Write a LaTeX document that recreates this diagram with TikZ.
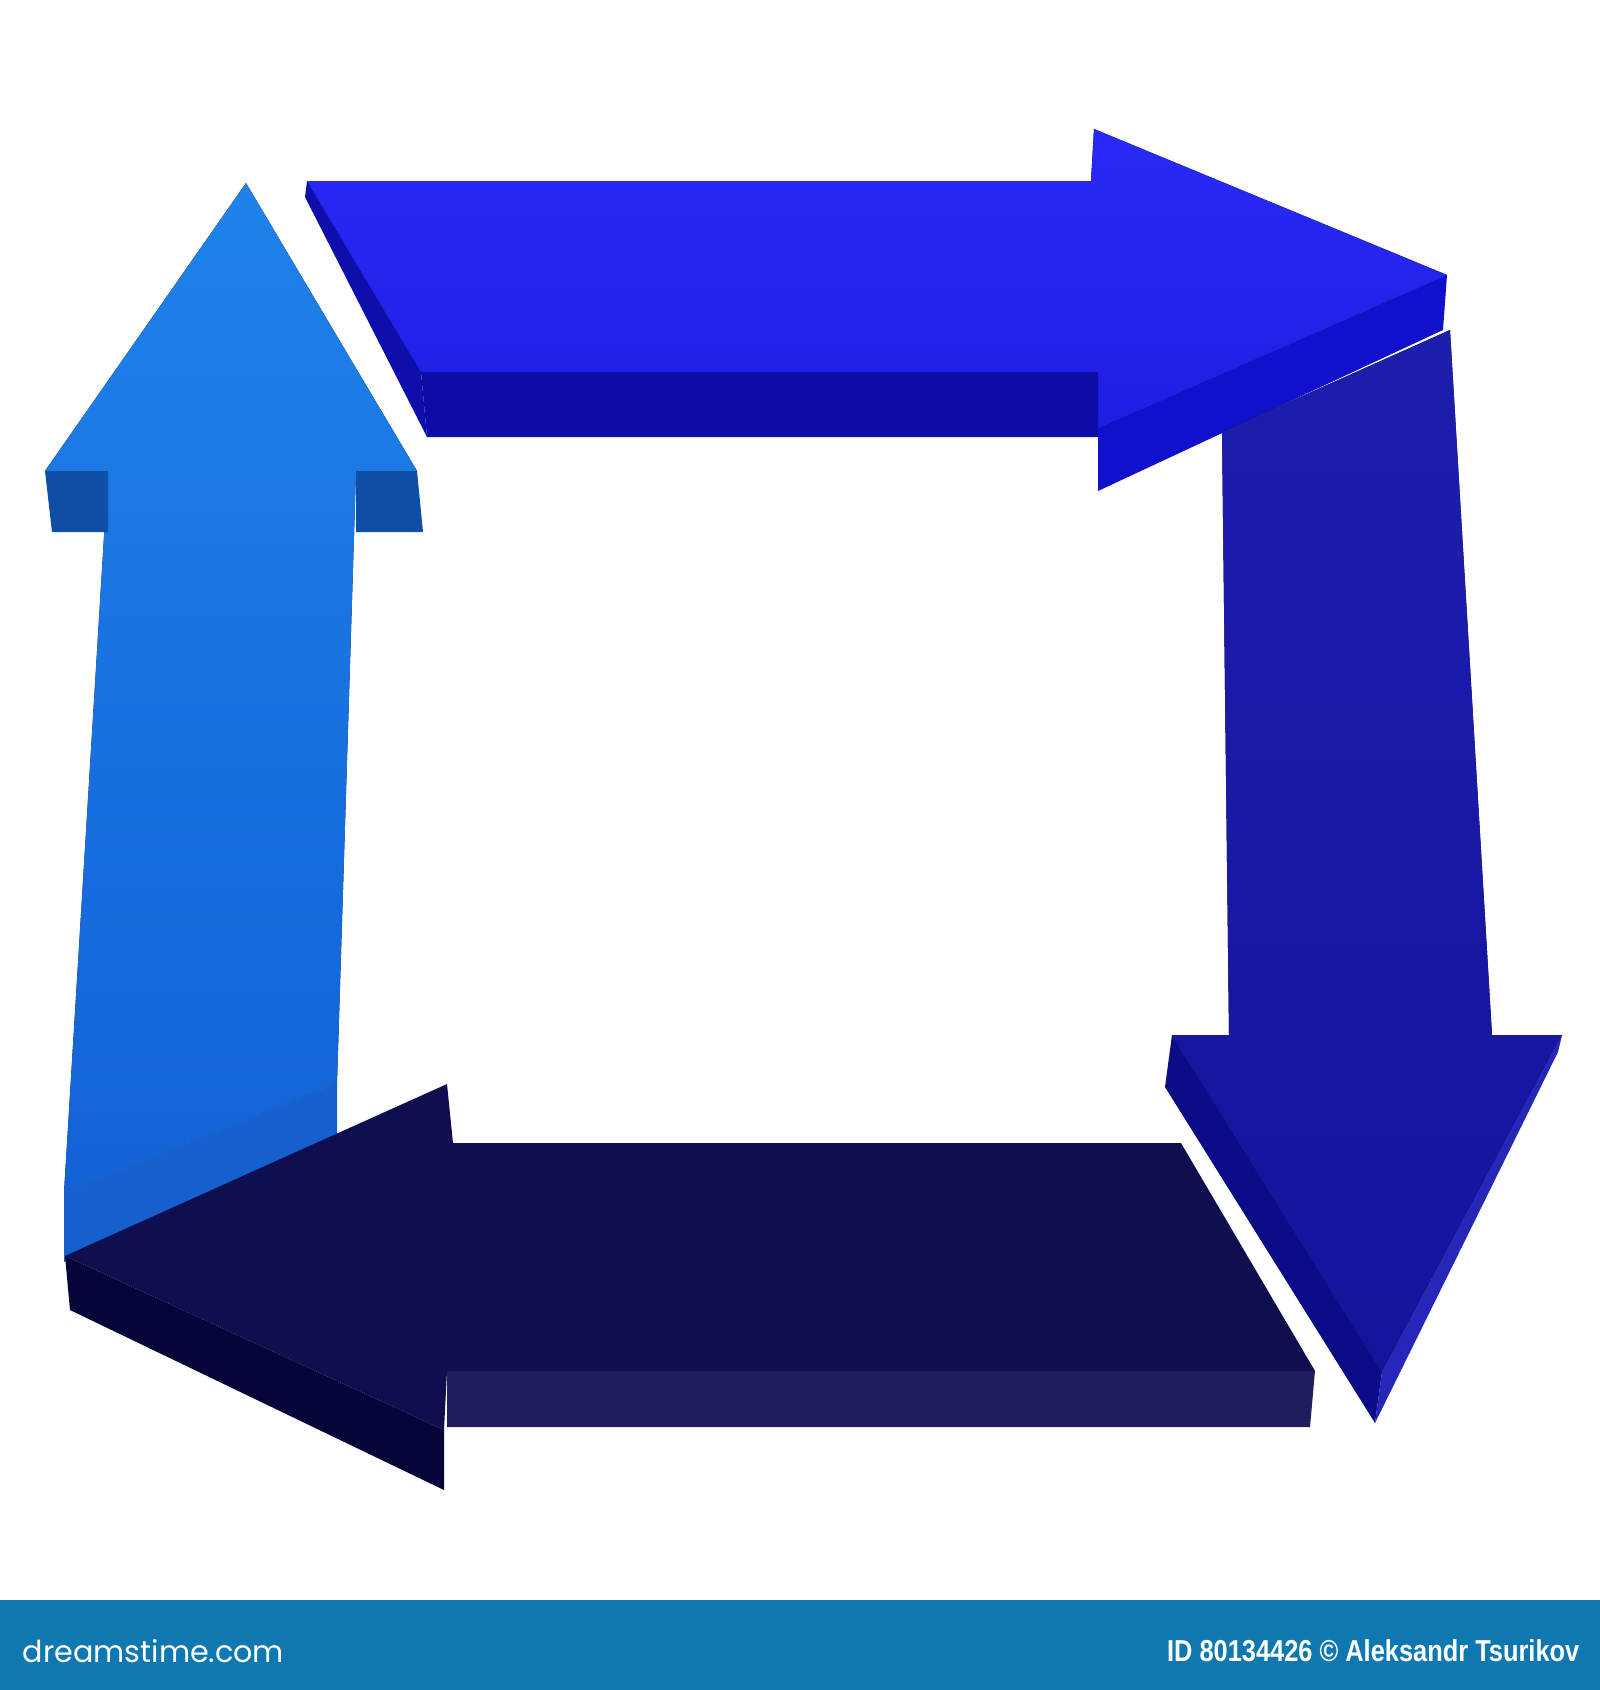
\documentclass[tikz,border=0pt]{standalone}
\usepackage{fontspec}
\usepackage{graphicx}
\setmainfont{Liberation Sans}
\newfontfamily\logofont{Poppins}
\usetikzlibrary{positioning}

% arrow colours
\definecolor{upTop}{HTML}{1F82EA}
\definecolor{upBot}{HTML}{1262D6}
\definecolor{upSide}{HTML}{0E4EA6}
\definecolor{upEnd}{HTML}{1660CE}
\definecolor{rightTop}{HTML}{2A2AF8}
\definecolor{rightBot}{HTML}{1E1EE4}
\definecolor{rightSide}{HTML}{0C0CA6}
\definecolor{rightHead}{HTML}{1111CC}
\definecolor{downTop}{HTML}{1E1EAE}
\definecolor{downBot}{HTML}{13139C}
\definecolor{downLeft}{HTML}{0C0C88}
\definecolor{downRight}{HTML}{2626B8}
\definecolor{leftTop}{HTML}{0F0F4F}
\definecolor{leftSide}{HTML}{1E1E5C}
\definecolor{leftHead}{HTML}{05053A}
\definecolor{banner}{HTML}{0F78B0}

\tikzset{
    face/.style={
        line join=round,
        draw=none
    },
    topface/.style 2 args={
        face,
        top color=#1,
        bottom color=#2
    },
    sideface/.style={
        face,
        fill=#1
    },
    bannertext/.style={
        text=white,
        inner sep=0pt
    }
}

\begin{document}
\begin{tikzpicture}[x=0.01cm, y=-0.01cm]
        \useasboundingbox [fill=white] (0,0) rectangle (1600,1690);

        % Up arrow (light blue, left)
        \fill [topface={upTop}{upBot}] (246,183) -- (417,471) -- (356,471) -- (337,1083)
            -- (64,1193) -- (108,471) -- (45,471) -- cycle;
        \fill [sideface=upSide] (45,471) -- (108,471) -- (108,532) -- (52,532) -- cycle;
        \fill [sideface=upSide] (356,471) -- (417,471) -- (423,532) -- (356,532) -- cycle;
        \fill [sideface=upEnd] (64,1193) -- (337,1083) -- (337,1140) -- (64,1262) -- cycle;

        % Right arrow (bright blue, top)
        \fill [topface={rightTop}{rightBot}] (307,181) -- (1091,181) -- (1094,129) -- (1447,275)
            -- (1098,428) -- (1098,372) -- (421,372) -- cycle;
        \fill [sideface=rightSide] (421,372) -- (1098,372) -- (1098,437) -- (427,437) -- cycle;
        \fill [sideface=rightHead!85!black] (307,181) -- (421,372) -- (427,437) -- (305,197) -- cycle;
        \fill [sideface=rightHead] (1447,275) -- (1098,428) -- (1098,491) -- (1443,330) -- cycle;

        % Down arrow (medium blue, right)
        \fill [topface={downTop}{downBot}] (1222,432) -- (1450,330) -- (1492,1035) -- (1562,1035)
            -- (1382,1372) -- (1172,1035) -- (1229,1035) -- cycle;
        \fill [sideface=downLeft] (1172,1035) -- (1382,1372) -- (1375,1423) -- (1165,1087) -- cycle;
        \fill [sideface=downRight] (1562,1035) -- (1382,1372) -- (1375,1423) -- (1558,1052) -- cycle;

        % Left arrow (navy, bottom)
        \fill [sideface=leftTop] (65,1256) -- (447,1084) -- (453,1143) -- (1181,1143)
            -- (1315,1371) -- (447,1371) -- (444,1430) -- cycle;
        \fill [sideface=leftSide] (447,1371) -- (1315,1371) -- (1310,1427) -- (447,1427) -- cycle;
        \fill [sideface=leftHead] (65,1256) -- (444,1430) -- (444,1490) -- (70,1310) -- cycle;

        % Banner
        \fill [banner] (0,1600) rectangle (1600,1690);
        \node [bannertext, anchor=west] (logo) at (22,1651)
            {\logofont\fontsize{8.6}{10}\selectfont dreamstime.com};
        \node [bannertext, anchor=east] (credit) at (1580,1651)
            {\scalebox{0.84}[1]{\bfseries\fontsize{8.6}{10}\selectfont ID 80134426 \textcopyright{} Aleksandr Tsurikov}};
    \end{tikzpicture}
\end{document}
